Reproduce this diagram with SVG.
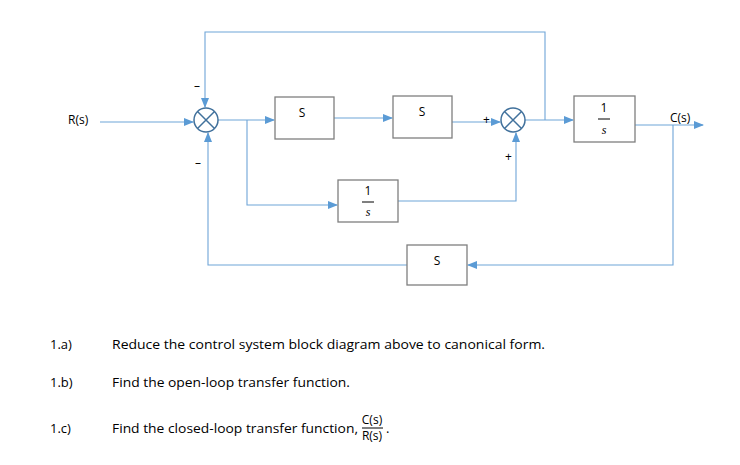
<svg xmlns="http://www.w3.org/2000/svg" width="740" height="465" viewBox="0 0 740 465">
<defs><marker id="a" markerWidth="10" markerHeight="8" refX="9" refY="4" orient="auto" markerUnits="userSpaceOnUse"><path d="M0,0L10,4L0,8z" fill="#5b9bd5"/></marker></defs>
<style>
.l{fill:none;stroke:#6fa5d8;stroke-width:1.1}
.b{fill:#fff;stroke:#7f7f7f;stroke-width:1.3}
.s{fill:#fff;stroke:#41719c;stroke-width:1.5}
text{font-family:"Open Sans","Liberation Sans",Arial,sans-serif;font-size:12px;fill:#000}
.q{font-size:13px}
.m{font-family:"Liberation Serif",serif;font-style:italic}
</style>
<rect width="740" height="465" fill="#fff"/>
<g id="connectors">
<path class="l" d="M100,122H193" marker-end="url(#a)"/>
<path class="l" d="M218,120H274" marker-end="url(#a)"/>
<path class="l" d="M334,118H392" marker-end="url(#a)"/>
<path class="l" d="M452,122H500" marker-end="url(#a)"/>
<path class="l" d="M525,120H573" marker-end="url(#a)"/>
<path class="l" d="M545,120V32H205V107" marker-end="url(#a)"/>
<path class="l" d="M635,125H703" marker-end="url(#a)"/>
<path class="l" d="M673,125V265H468" marker-end="url(#a)"/>
<path class="l" d="M407,265H208V133" marker-end="url(#a)"/>
<path class="l" d="M247,120V205H337" marker-end="url(#a)"/>
<path class="l" d="M398,201H516V133" marker-end="url(#a)"/>
</g>
<g id="sum1"><circle class="s" cx="206" cy="120" r="12"/><path class="s" d="M197.5,111.5L214.5,128.5M214.5,111.5L197.5,128.5"/></g>
<g id="sum2"><circle class="s" cx="513" cy="120" r="12"/><path class="s" d="M504.5,111.5L521.5,128.5M521.5,111.5L504.5,128.5"/></g>
<g id="box1"><rect class="b" x="275" y="97" width="59" height="42"/><text x="302" y="117" text-anchor="middle">S</text></g>
<g id="box2"><rect class="b" x="393" y="96" width="59" height="42"/><text x="422" y="116" text-anchor="middle">S</text></g>
<g id="box3"><rect class="b" x="574" y="96" width="61" height="46"/><text x="604" y="112" text-anchor="middle">1</text><path d="M598,119H610" stroke="#000"/><text class="m" x="604" y="134" text-anchor="middle" font-size="14">s</text></g>
<g id="box4"><rect class="b" x="338" y="180" width="60" height="42"/><text x="368" y="195" text-anchor="middle">1</text><path d="M362,202H374" stroke="#000"/><text class="m" x="368" y="216" text-anchor="middle" font-size="14">s</text></g>
<g id="box5"><rect class="b" x="407" y="245" width="60" height="40"/><text x="437" y="265" text-anchor="middle">S</text></g>
<g id="labels">
<text x="68" y="124">R(s)</text>
<text x="670" y="122">C(s)</text>
<text x="194" y="90">–</text>
<text x="195" y="167">–</text>
<text x="483" y="124" font-size="10">+</text>
<text x="505" y="161" font-size="10">+</text>
<text class="q" x="50" y="349">1.a)</text><text class="q" x="112" y="349" textLength="433" lengthAdjust="spacingAndGlyphs">Reduce the control system block diagram above to canonical form.</text>
<text class="q" x="50" y="387">1.b)</text><text class="q" x="112" y="387" textLength="238" lengthAdjust="spacingAndGlyphs">Find the open-loop transfer function.</text>
<text class="q" x="50" y="433">1.c)</text><text class="q" x="112" y="433" textLength="246" lengthAdjust="spacingAndGlyphs">Find the closed-loop transfer function,</text>
<text x="372" y="424" font-size="10" text-anchor="middle">C(s)</text><path d="M362,428H383" stroke="#000"/><text x="372" y="440" font-size="10" text-anchor="middle">R(s)</text><text class="q" x="386" y="433">.</text>
</g>
</svg>
